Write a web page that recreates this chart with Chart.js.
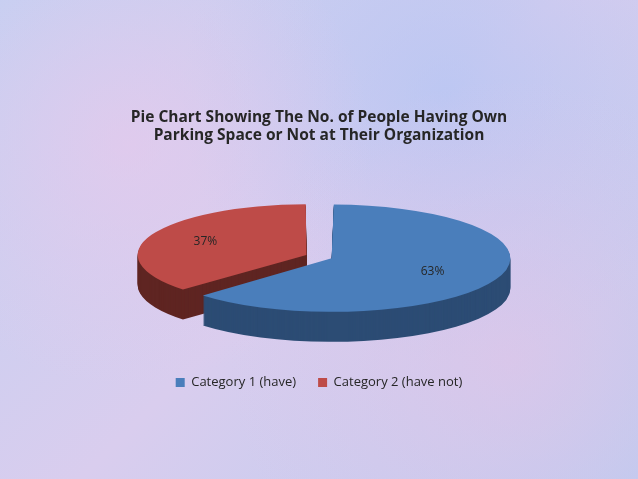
<!DOCTYPE html>
<html>
<head>
<meta charset="utf-8">
<script src="https://cdn.jsdelivr.net/npm/chart.js@4.4.1/dist/chart.umd.min.js"></script>
<style>
  html, body { margin: 0; padding: 0; }
  body {
    width: 638px; height: 479px; overflow: hidden;
    background:
      radial-gradient(circle at 20% 30%, rgba(235,200,235,0.6), rgba(235,200,235,0) 40%),
      radial-gradient(circle at 80% 75%, rgba(230,195,230,0.55), rgba(230,195,230,0) 45%),
      radial-gradient(circle at 70% 20%, rgba(170,195,245,0.6), rgba(170,195,245,0) 45%),
      linear-gradient(135deg, #c3d0f2 0%, #d9cdee 50%, #bccbf0 100%);
  }
  #wrap { width: 638px; height: 479px; }
</style>
</head>
<body>
<div id="wrap"><canvas id="pieChart"></canvas></div>
<script>
const categories = ["Category 1 (have)", "Category 2 (have not)"];
const shares = [63, 37];
const topColors = ["#4a7ebb", "#be4b48"];
const sideColors = ["#2c4c74", "#5f2522"];
const squash = 0.3;
const depth = 30;

const fakeThreeD = {
    id: "fakeThreeD",
    beforeDatasetsDraw(chart) {
        const ctx = chart.ctx;
        const arcs = chart.getDatasetMeta(0).data;
        const cx = arcs[0].x, cy = arcs[0].y;
        function squashed(fn) {
            ctx.save();
            ctx.translate(cx, cy);
            ctx.scale(1, squash);
            ctx.translate(-cx, -cy);
            fn();
            ctx.restore();
        }
        // side walls
        for (let k = depth; k >= 1; k--) {
            ctx.save();
            ctx.translate(0, k);
            squashed(() => {
                arcs.forEach((arc, i) => {
                    const old = arc.options.backgroundColor;
                    arc.options.backgroundColor = sideColors[i];
                    arc.draw(ctx);
                    arc.options.backgroundColor = old;
                });
            });
            ctx.restore();
        }
        // top face
        squashed(() => arcs.forEach(arc => arc.draw(ctx)));

        // percent labels
        ctx.save();
        ctx.fillStyle = "#262626";
        ctx.font = "12px 'Open Sans', sans-serif";
        ctx.textAlign = "center";
        ctx.textBaseline = "middle";
        arcs.forEach((arc, i) => {
            const p = arc.getProps(["x", "y", "startAngle", "endAngle", "outerRadius"]);
            const mid = (p.startAngle + p.endAngle) / 2;
            const x = p.x + Math.cos(mid) * p.outerRadius * 0.75;
            const y = p.y + Math.sin(mid) * p.outerRadius * 0.75;
            ctx.fillText(shares[i] + "%", x, cy + (y - cy) * squash);
        });
        ctx.restore();
        return false;
    }
};

const ctx = document.getElementById("pieChart").getContext("2d");
new Chart(ctx, {
    type: "pie",
    data: {
        labels: categories,
        datasets: [{
            data: shares,
            backgroundColor: topColors,
            borderWidth: 0,
            offset: 55,
            radius: 165
        }]
    },
    options: {
        responsive: true,
        maintainAspectRatio: false,
        animation: false,
        layout: { padding: { top: 108, bottom: 80, left: 0, right: 0 } },
        plugins: {
            title: {
                display: true,
                text: ["Pie Chart Showing The No. of People Having Own", "Parking Space or Not at Their Organization"],
                color: "#262626",
                font: { family: "'Open Sans', sans-serif", size: 15.5, weight: "bold" },
                padding: { bottom: 14 }
            },
            legend: {
                position: "bottom",
                labels: {
                    color: "#262626",
                    boxWidth: 9, boxHeight: 9,
                    padding: 22,
                    font: { family: "'Open Sans', sans-serif", size: 13 }
                }
            },
            tooltip: { enabled: false }
        }
    },
    plugins: [fakeThreeD]
});
</script>
</body>
</html>
